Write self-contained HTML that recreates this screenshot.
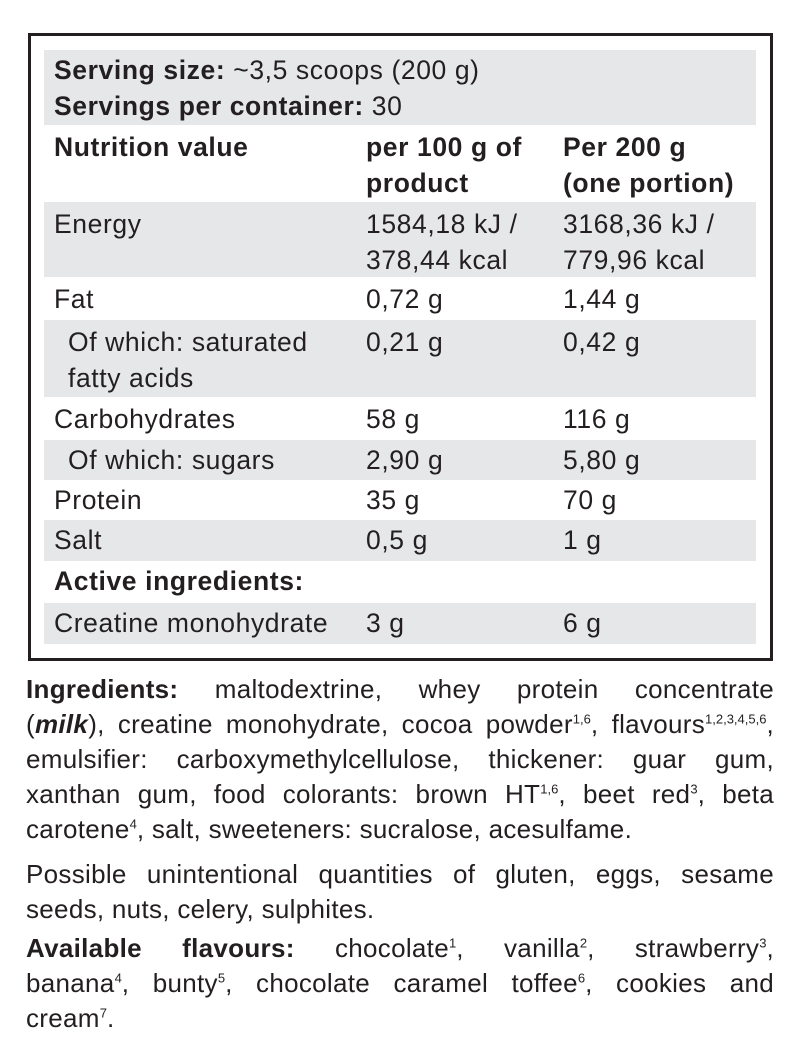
<!DOCTYPE html>
<html><head><meta charset="utf-8"><style>
body{margin:0;width:800px;height:1053px;background:#fff;font-family:"Liberation Sans",sans-serif;color:#231f20;position:relative;overflow:hidden}
.box{position:absolute;left:28px;top:33px;width:739px;height:622px;border:3px solid #231f20}
.r{position:absolute;left:44px;width:712px;font-size:26.5px;line-height:36px;letter-spacing:0.6px}
.g{background:#e6e7e8}
.c{position:absolute;top:4px;white-space:nowrap}
.c1{left:10px}.c2{left:322px}.c3{left:519px}
b{font-weight:bold}
.txt{position:absolute;left:26px;width:748px;font-size:26px;line-height:35px;letter-spacing:0.3px}
.txt div{white-space:nowrap;text-align:justify;text-align-last:justify;height:35px}
.txt div.l{text-align-last:left}
sup{font-size:13px;line-height:0;vertical-align:super;letter-spacing:0}
</style></head><body>
<div class="box"></div>
<div class="r g" style="top:50px;height:75px"><div class="c c1" style="top:2px"><b>Serving size:</b> ~3,5 scoops (200 g)<br><b>Servings per container:</b> 30</div></div>
<div class="r" style="top:125px;height:77px"><div class="c c1"><b>Nutrition value</b></div><div class="c c2"><b>per 100 g of<br>product</b></div><div class="c c3"><b>Per 200 g<br>(one portion)</b></div></div>
<div class="r g" style="top:202px;height:75px"><div class="c c1">Energy</div><div class="c c2">1584,18 kJ /<br>378,44 kcal</div><div class="c c3">3168,36 kJ /<br>779,96 kcal</div></div>
<div class="r" style="top:277px;height:43px"><div class="c c1">Fat</div><div class="c c2">0,72 g</div><div class="c c3">1,44 g</div></div>
<div class="r g" style="top:320px;height:77px"><div class="c c1" style="left:24px">Of which: saturated<br>fatty acids</div><div class="c c2">0,21 g</div><div class="c c3">0,42 g</div></div>
<div class="r" style="top:397px;height:43px"><div class="c c1">Carbohydrates</div><div class="c c2">58 g</div><div class="c c3">116 g</div></div>
<div class="r g" style="top:440px;height:40px"><div class="c c1" style="left:24px;top:2px">Of which: sugars</div><div class="c c2" style="top:2px">2,90 g</div><div class="c c3" style="top:2px">5,80 g</div></div>
<div class="r" style="top:480px;height:40px"><div class="c c1" style="top:2px">Protein</div><div class="c c2" style="top:2px">35 g</div><div class="c c3" style="top:2px">70 g</div></div>
<div class="r g" style="top:520px;height:41px"><div class="c c1" style="top:2px">Salt</div><div class="c c2" style="top:2px">0,5 g</div><div class="c c3" style="top:2px">1 g</div></div>
<div class="r" style="top:561px;height:42px"><div class="c c1" style="top:2px"><b>Active ingredients:</b></div></div>
<div class="r g" style="top:603px;height:41px"><div class="c c1" style="top:2px">Creatine monohydrate</div><div class="c c2" style="top:2px">3 g</div><div class="c c3" style="top:2px">6 g</div></div>
<div class="txt" style="top:672px">
<div><b>Ingredients:</b> maltodextrine, whey protein concentrate</div>
<div>(<b><i>milk</i></b>), creatine monohydrate, cocoa powder<sup>1,6</sup>, flavours<sup>1,2,3,4,5,6</sup>,</div>
<div>emulsifier: carboxymethylcellulose, thickener: guar gum,</div>
<div>xanthan gum, food colorants: brown HT<sup>1,6</sup>, beet red<sup>3</sup>, beta</div>
<div class="l">carotene<sup>4</sup>, salt, sweeteners: sucralose, acesulfame.</div>
<div style="height:10px"></div>
<div>Possible unintentional quantities of gluten, eggs, sesame</div>
<div class="l">seeds, nuts, celery, sulphites.</div>
<div style="height:4px"></div>
<div><b>Available flavours:</b> chocolate<sup>1</sup>, vanilla<sup>2</sup>, strawberry<sup>3</sup>,</div>
<div>banana<sup>4</sup>, bunty<sup>5</sup>, chocolate caramel toffee<sup>6</sup>, cookies and</div>
<div class="l">cream<sup>7</sup>.</div>
</div>
</body></html>
